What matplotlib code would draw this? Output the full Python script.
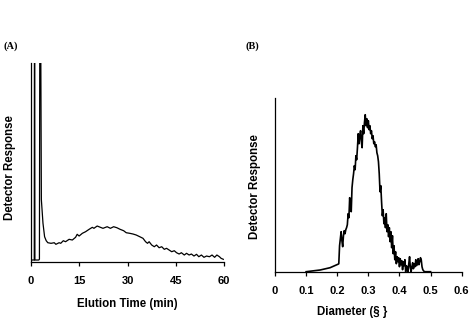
import matplotlib
matplotlib.use("Agg")
import matplotlib.pyplot as plt

plt.rcParams['font.family'] = ['Liberation Sans', 'DejaVu Sans']

# panel A : elution profile (time in min, response in arbitrary units)
t_min = [0.0, 1.1, 1.2, 1.3, 2.5, 2.7, 2.9, 3.3, 3.8, 4.3, 4.8, 5.3, 6.3, 7.3, 7.8, 8.8, 9.3,
         10.1, 10.8, 11.9, 12.9, 13.9, 14.4, 15.0, 16.0, 17.0, 18.1, 19.1, 19.6, 20.6, 21.6,
         22.4, 23.7, 24.7, 25.7, 26.7, 27.7, 28.8, 29.6, 30.7, 31.7, 32.7, 33.8, 34.8, 35.6,
         36.2, 36.7, 37.5, 38.3, 39.0, 39.8, 40.6, 41.4, 42.1, 42.9, 43.7, 44.5, 45.2, 46.0,
         46.7, 47.6, 48.3, 49.1, 49.8, 50.6, 51.4, 52.1, 52.9, 53.7, 54.5, 55.4, 56.2, 57.0,
         57.7, 58.5, 59.0, 59.7]
resp_a = [1.7, 1.7, 400, 1.7, 1.7, 2.5, 400, 62, 38.5, 25, 21, 19, 18.4, 19, 17.4, 19, 18.4,
          21, 20, 22.4, 21.7, 24.4, 27.4, 25.7, 28.4, 30, 32.4, 34.4, 33.4, 35.7, 34.4,
          33.4, 35, 33.4, 35, 34, 32.4, 31, 29, 28.4, 27.7, 26.7, 25, 23.4, 20,
          18.4, 20, 16.7, 15, 16.7, 14, 15, 12.4, 13.4, 11.7, 10, 11, 9, 7.7,
          9, 6.7, 8.4, 6.7, 7.7, 5.7, 7.4, 5, 6.7, 4.4, 5.7, 5, 6.7, 4.4,
          6.7, 5, 3.4, 2.4]

# panel B : size distribution (diameter, response in arbitrary units)
diam = [0.100, 0.145, 0.177, 0.204,
        0.2050, 0.2075, 0.2100, 0.2125, 0.2150, 0.2175, 0.2200, 0.2225, 0.2250, 0.2275,
        0.2300, 0.2325, 0.2350, 0.2375, 0.2400, 0.2425, 0.2450, 0.2475, 0.2500, 0.2525,
        0.2550, 0.2575, 0.2600, 0.2625, 0.2650, 0.2675, 0.2700, 0.2725, 0.2750, 0.2775,
        0.2800, 0.2825, 0.2850, 0.2875, 0.2900, 0.2925, 0.2950, 0.2975, 0.3000, 0.3025,
        0.3050, 0.3075, 0.3100, 0.3125, 0.3150, 0.3175, 0.3200, 0.3225, 0.3250, 0.3275,
        0.3300, 0.3325, 0.3350, 0.3375, 0.3400, 0.3425, 0.3450, 0.3475, 0.3500, 0.3525,
        0.3550, 0.3575, 0.3600, 0.3625, 0.3650, 0.3675, 0.3700, 0.3725, 0.3750, 0.3775,
        0.3800, 0.3825, 0.3850, 0.3875, 0.3900, 0.3925, 0.3950, 0.3975, 0.4000, 0.4025,
        0.4050, 0.4075, 0.4100, 0.4125, 0.4150, 0.4175, 0.4200, 0.4225, 0.4250, 0.4275,
        0.4300, 0.4325, 0.4350, 0.4375, 0.4400, 0.4425, 0.4450, 0.4475, 0.4500, 0.4525,
        0.4550, 0.4575, 0.4600, 0.4625, 0.4650, 0.4675, 0.4700, 0.4725, 0.4750, 0.4775,
        0.4800, 0.5000]
resp_b = [0, 1.7, 4, 7.7,
          8, 26, 33, 40, 31, 25, 36, 41, 38, 42,
          44, 47, 58, 54, 74, 64, 60, 84, 92, 98,
          106, 102, 116, 112, 124, 138, 128, 136, 141, 130,
          124, 146, 138, 149, 157, 146, 153, 144, 151, 142,
          146, 138, 141, 133, 136, 128, 130, 125, 127, 119,
          116, 110, 98, 80, 86, 70, 56, 62, 48, 54,
          44, 58, 40, 47, 35, 44, 30, 40, 24, 36,
          18, 26, 12, 20, 8, 15, 10, 14, 5, 13,
          7, 11, 2, 10, 6, 12, 0, 6, 3, 0,
          8, 15, 4, 0, 5, 9, 3, 8, 5, 12,
          6, 9, 13, 7, 10, 14, 12, 5, 2, 1,
          0, 0]

fig = plt.figure(figsize=(4.74, 3.32), dpi=100)

axA = fig.add_axes([0.0648, 0.2117, 0.4084, 0.5985])
axA.plot(t_min, resp_a, color='black', lw=0.9)
axA.set_xlim(0, 60)
axA.set_ylim(0, 198.7)
axA.set_xticks([0, 15, 30, 45, 60])

axB = fig.add_axes([0.5802, 0.1816, 0.3938, 0.5232])
axB.plot(diam, resp_b, color='black', lw=1.2)
axB.set_xlim(0, 0.6)
axB.set_ylim(0, 173.7)
axB.set_xticks([0, 0.1, 0.2, 0.3, 0.4, 0.5, 0.6])
axB.set_xticklabels(['0', '0.1', '0.2', '0.3', '0.4', '0.5', '0.6'])

for ax in (axA, axB):
    for s in ('top', 'right'):
        ax.spines[s].set_visible(False)
    ax.spines['left'].set_linewidth(0.9)
    ax.spines['bottom'].set_linewidth(0.9)
    ax.set_yticks([])
    ax.tick_params(axis='x', direction='out', length=3, width=0.9, pad=7)
    for lb in ax.get_xticklabels():
        lb.set_fontsize(8)
        lb.set_fontweight('bold')

W, H = 474, 332
def ft(x, y, s, **kw):
    fig.text(x / W, 1 - y / H, s, **kw)

ft(127, 304, 'Elution Time (min)', ha='center', va='center', fontsize=8.3, fontweight='bold')
ft(10, 168, 'Detector Response', ha='center', va='center', rotation=90, fontsize=8.3, fontweight='bold')
ft(352, 312, 'Diameter (§ }', ha='center', va='center', fontsize=8.3, fontweight='bold')
ft(255, 187, 'Detector Response', ha='center', va='center', rotation=90, fontsize=8.3, fontweight='bold')
ft(3, 46, '(A)', ha='left', va='center', fontsize=7.5, fontweight='bold', family='Liberation Serif')
ft(246, 46, '(B)', ha='left', va='center', fontsize=7.5, fontweight='bold', family='Liberation Serif')

fig.savefig('out.png', dpi=100)
